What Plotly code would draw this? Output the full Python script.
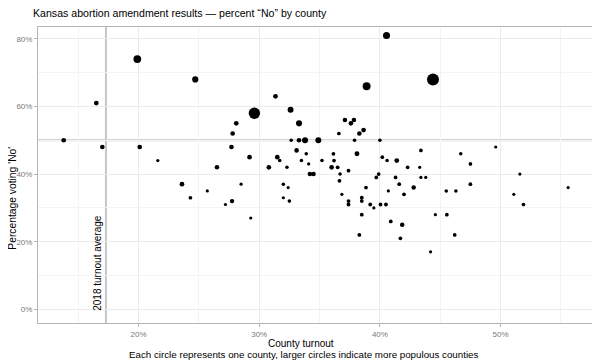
import plotly.graph_objects as go
import numpy as np

# County turnout (%), percent voting "No" (%), relative population (estimated)
turnout = [13.8, 16.5, 17.0, 19.9, 20.1, 21.6, 24.7, 23.6, 24.3, 25.7, 26.5, 27.7, 27.8, 28.1,
           28.5, 29.6, 29.2, 30.8, 31.35, 31.5, 31.7, 32.0, 32.4, 32.3, 32.6, 32.65, 33.3, 33.3,
           33.8, 33.1, 33.9, 33.5, 34.1, 34.2, 34.5, 34.9, 35.2, 27.2, 27.75, 29.3, 32.0, 32.5,
           40.55, 44.4, 38.9, 37.1, 37.6, 37.85, 36.6, 38.3, 38.65, 37.9, 40.0, 43.4, 46.7, 49.6,
           47.5, 51.6, 55.6, 36.15, 36.2, 38.1, 36.0, 36.5, 37.4, 36.7, 36.65, 40.2, 40.6, 41.4,
           42.3, 43.3, 39.9, 39.7, 41.3, 43.4, 43.8, 41.6, 42.8, 38.85, 40.7, 42.0, 45.5, 46.3,
           47.5, 51.1, 36.85, 38.5, 38.5, 37.4, 37.4, 39.2, 39.5, 40.05, 40.5, 38.5, 40.9, 41.85,
           38.3, 41.7, 44.6, 45.55, 46.2, 44.2, 51.9]

pct_no = [50, 61, 48, 74, 48, 44, 68, 37, 33, 35, 42, 48, 52, 55,
          37, 58, 45, 42, 63, 45, 44, 37, 36, 42, 59, 50, 50, 55,
          50, 47, 46, 44, 43, 40, 40, 50, 44, 31, 32, 27, 33, 32,
          81, 68, 66, 56, 55, 56, 52, 52, 53, 50, 50, 47, 46, 48,
          43, 40, 36, 46, 44, 46, 42, 42, 41, 40, 38, 45, 44, 44,
          42, 42, 40, 39, 39, 39, 39, 37, 36, 36, 35, 34, 35, 35,
          37, 34, 34, 33, 32, 32, 31, 31, 30, 31, 31, 28, 26, 25,
          22, 21, 28, 28, 22, 17, 31]

population = [20000, 22000, 20000, 165000, 20000, 3000, 72000, 20000, 5000, 3000, 18000, 20000, 20000, 22000,
              3000, 523000, 20000, 20000, 22000, 20000, 4000, 4000, 3000, 4000, 62000, 4000, 20000, 67000,
              65000, 18000, 4000, 4000, 3000, 18000, 18000, 62000, 4000, 3000, 15000, 3000, 3000, 4000,
              118000, 610000, 178000, 18000, 18000, 18000, 5000, 18000, 20000, 4000, 4000, 5000, 4000, 3000,
              5000, 3000, 3000, 5000, 5000, 25000, 20000, 6000, 6000, 4000, 6000, 5000, 4000, 22000,
              5000, 3000, 5000, 5000, 5000, 3000, 3000, 6000, 15000, 5000, 3000, 6000, 4000, 4000,
              6000, 3000, 3000, 6000, 6000, 6000, 6000, 6000, 3000, 6000, 6000, 6000, 6000, 18000,
              6000, 5000, 3000, 5000, 5000, 3000, 5000]

turnout_2018_avg = 17.3
no_threshold = 50

x_ticks = [20, 30, 40, 50]
y_ticks = [0, 20, 40, 60, 80]

pop = np.array(population, dtype=float)
frac = (pop - pop.min()) / (pop.max() - pop.min())
sizes = 3.2 + 8.8 * np.sqrt(frac)

FONT = "Liberation Sans, Arial, sans-serif"
GRID = "#ebebeb"
MINOR = "#f4f4f4"
BORDER = "#b5b5b5"
REF = "#c6c6c6"

# the page body has an 8px margin, so the figure is sized to fill the rest of the window
W, H = 592, 354

fig = go.Figure()
fig.add_trace(go.Scatter(
    x=[t / 100 for t in turnout],
    y=[p / 100 for p in pct_no],
    mode="markers",
    marker=dict(size=sizes, color="black", line=dict(width=0), opacity=1),
    hoverinfo="skip",
))

fig.add_shape(type="line", xref="x", yref="paper", x0=turnout_2018_avg / 100, x1=turnout_2018_avg / 100,
              y0=0, y1=1, line=dict(color=REF, width=2), layer="between")
fig.add_shape(type="line", xref="paper", yref="y", x0=0, x1=1, y0=no_threshold / 100, y1=no_threshold / 100,
              line=dict(color=REF, width=2), layer="between")

fig.add_annotation(text="2018 turnout average", x=turnout_2018_avg / 100, y=0, xref="x", yref="y",
                   xanchor="right", yanchor="bottom", textangle=-90, showarrow=False, xshift=-1, yshift=-3,
                   font=dict(family=FONT, size=10, color="black"))

fig.add_annotation(text="Percentage voting 'No'", xref="paper", yref="paper", x=-0.045, y=0.42,
                   xanchor="center", yanchor="middle", textangle=-90, showarrow=False,
                   font=dict(family=FONT, size=10.3, color="black"))
fig.add_annotation(text="County turnout", xref="paper", yref="paper", x=0.474, y=-0.0676,
                   xanchor="center", yanchor="middle", showarrow=False,
                   font=dict(family=FONT, size=10, color="black"))
fig.add_annotation(text="Each circle represents one county, larger circles indicate more populous counties",
                   xref="paper", yref="paper", x=0.478, y=-0.105,
                   xanchor="center", yanchor="middle", showarrow=False,
                   font=dict(family=FONT, size=9.75, color="black"))

fig.update_layout(
    width=W, height=H,
    margin=dict(l=30, r=7, t=19, b=39),
    paper_bgcolor="white", plot_bgcolor="white",
    showlegend=False,
    title=dict(text="Kansas abortion amendment results \u2014 percent \u201cNo\u201d by county",
               xref="container", yref="container", x=25 / W, xanchor="left",
               y=1 - 5.5 / H, yanchor="middle",
               font=dict(family=FONT, size=10.6, color="black")),
    font=dict(family=FONT),
)

fig.update_xaxes(
    range=[0.1167, 0.5766], tickvals=[v / 100 for v in x_ticks], ticktext=[f"{v}%" for v in x_ticks],
    showgrid=True, gridcolor=GRID, gridwidth=1, zeroline=False,
    minor=dict(dtick=0.05, tick0=0, showgrid=True, gridcolor=MINOR, gridwidth=1, ticks=""),
    showline=True, mirror=True, linecolor=BORDER, linewidth=1,
    ticks="outside", ticklen=3, tickcolor=BORDER, tickwidth=1,
    tickfont=dict(family=FONT, size=8, color="#7a7a7a"),
)
fig.update_yaxes(
    range=[-0.0405, 0.835], tickvals=[v / 100 for v in y_ticks], ticktext=[f"{v}%" for v in y_ticks],
    showgrid=True, gridcolor=GRID, gridwidth=1, zeroline=False,
    minor=dict(dtick=0.1, tick0=0, showgrid=True, gridcolor=MINOR, gridwidth=1, ticks=""),
    showline=True, mirror=True, linecolor=BORDER, linewidth=1,
    ticks="outside", ticklen=3, tickcolor=BORDER, tickwidth=1,
    tickfont=dict(family=FONT, size=8, color="#7a7a7a"),
)

fig.write_html("out.html")
